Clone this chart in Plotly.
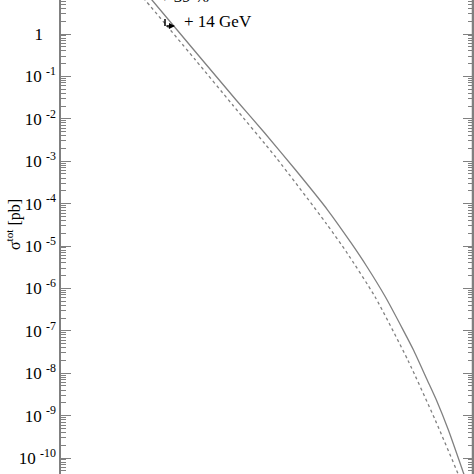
import plotly.graph_objects as go

# masse (GeV) et section efficace totale (pb)
m_solid = [230, 259, 347, 406, 456, 510, 566, 607, 635, 667, 698, 716, 740, 756, 777, 804, 820]
sigma_solid = [18.8, 6.34, 0.244, 0.0278, 4.62e-3, 6.19e-4, 7.06e-5, 1.18e-5, 3.20e-6,
               6.27e-7, 1.04e-7, 3.52e-8, 6.91e-9, 2.33e-9, 4.57e-10, 4.2e-11, 1.0e-11]

m_dashed = [217, 247, 335, 400, 475, 563, 600, 649, 706, 754, 794, 812]
sigma_dashed = [18.8, 6.34, 0.244, 0.0212, 1.26e-3, 3.48e-5, 6.84e-6, 6.27e-7,
                2.05e-8, 7.87e-10, 4.2e-11, 1.0e-11]

# graduations de l'axe y
exposants = [0, -1, -2, -3, -4, -5, -6, -7, -8, -9, -10]
tick_vals = [10.0 ** e for e in exposants]
tick_text = ['1\u00a0\u00a0\u00a0' if e == 0 else '10 <sup>%d</sup>' % e for e in exposants]
minor_vals = [d * 10.0 ** e for e in range(-11, 1) for d in range(2, 10)]

label_shift = ['+ 39 %', '+ 14 GeV']

gris = '#808080'
police = 'Liberation Serif'

fig = go.Figure()

fig.add_trace(go.Scatter(
    x=m_solid, y=sigma_solid, mode='lines',
    line=dict(color=gris, width=1.3, shape='spline', smoothing=0.6),
    showlegend=False
))
fig.add_trace(go.Scatter(
    x=m_dashed, y=sigma_dashed, mode='lines',
    line=dict(color=gris, width=1.3, dash='3px,3px', shape='spline', smoothing=0.6),
    showlegend=False
))

# textes en haut (le premier est coupé par le bord)
fig.add_annotation(text=label_shift[0], xref='paper', yref='paper',
                   x=(158 - 61) / 412, y=1 + 4 / 474, xanchor='left', yanchor='middle',
                   showarrow=False, font=dict(family=police, size=17, color='black'))
fig.add_annotation(text=label_shift[1], xref='paper', yref='paper',
                   x=(182 - 61) / 412, y=1 - 22 / 474, xanchor='left', yanchor='middle',
                   showarrow=False, font=dict(family=police, size=17, color='black'))

# petite flèche coudée
fig.add_shape(type='line', xref='paper', yref='paper',
              x0=(165 - 61) / 412, x1=(165 - 61) / 412,
              y0=1 - 19 / 474, y1=1 - 26 / 474,
              line=dict(color='black', width=1.5))
fig.add_annotation(text='', xref='paper', yref='paper', axref='pixel', ayref='pixel',
                   x=(175 - 61) / 412, y=1 - 26 / 474, ax=-10, ay=0,
                   showarrow=True, arrowhead=2, arrowsize=0.8, arrowwidth=1.5,
                   arrowcolor='black')

# titre de l'axe y
fig.add_annotation(text='\u03c3<sup>tot</sup> [pb]', xref='paper', yref='paper',
                   x=(13 - 61) / 412, y=1 - 225 / 474, textangle=-90,
                   xanchor='center', yanchor='middle', showarrow=False,
                   font=dict(family=police, size=16, color='black'))

# trait épais à droite
fig.add_shape(type='line', xref='paper', yref='paper', x0=1, x1=1, y0=0, y1=1,
              line=dict(color=gris, width=2.5))

fig.update_layout(
    width=474, height=474,
    margin=dict(l=61, r=1, t=0, b=0),
    plot_bgcolor='white', paper_bgcolor='white',
    font=dict(family=police, size=16, color='black'),
    xaxis=dict(visible=False, range=[100, 820]),
    yaxis=dict(
        type='log', range=[-10.377, 0.802],
        tickmode='array', tickvals=tick_vals, ticktext=tick_text,
        ticks='inside', ticklen=10, tickwidth=1, tickcolor=gris,
        showline=True, linecolor=gris, linewidth=1.5, mirror='allticks',
        showgrid=False, zeroline=False,
        minor=dict(tickmode='array', tickvals=minor_vals, ticks='inside',
                   ticklen=5, tickwidth=1, tickcolor=gris, showgrid=False),
        tickfont=dict(family=police, size=17, color='black')
    )
)

fig.write_html("out.html", config={'displayModeBar': False},
               post_script="document.body.style.margin = '0';")
